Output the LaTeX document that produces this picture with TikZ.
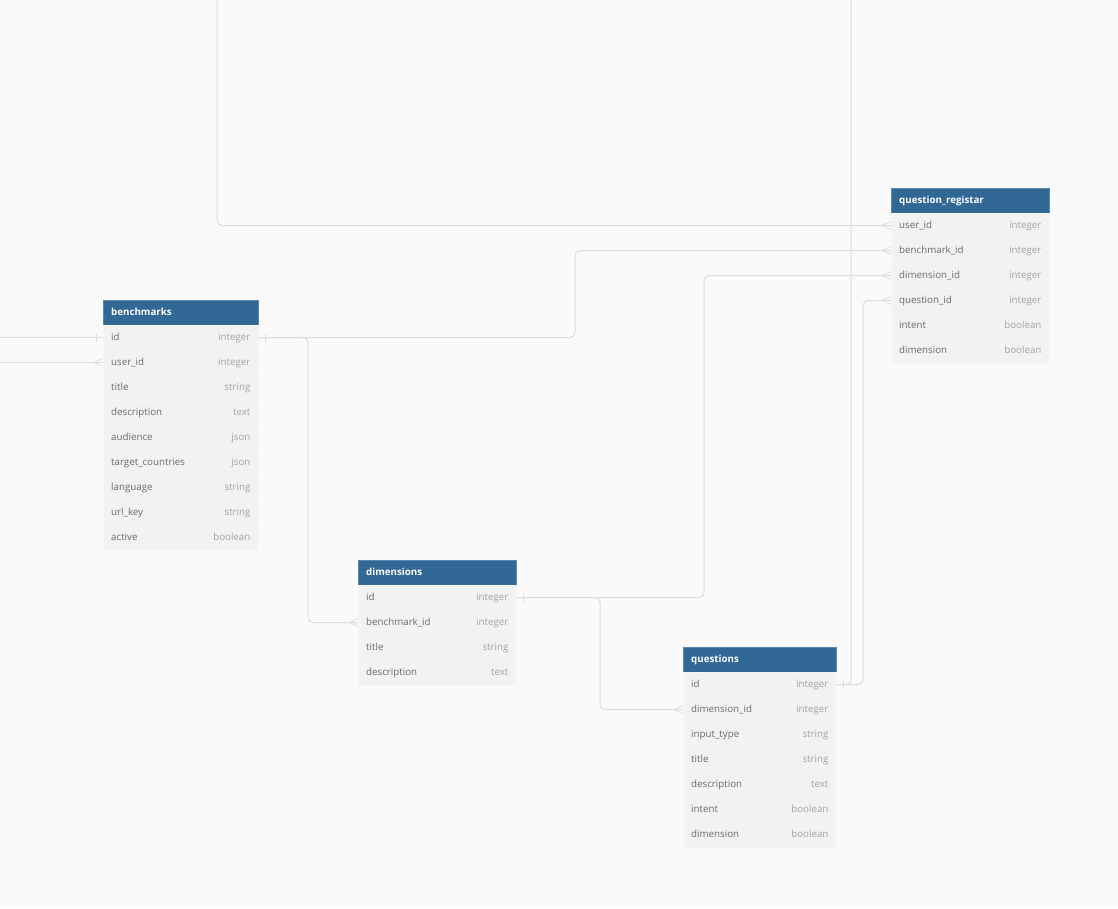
\documentclass[tikz,border=0pt]{standalone}
\usepackage{fontspec}
\setmainfont{Open Sans}
\usetikzlibrary{calc}
\definecolor{bg}{HTML}{FAFAFA}
\definecolor{hdr}{HTML}{316896}
\definecolor{hdrline}{HTML}{5A87AE}
\definecolor{rowbg}{HTML}{F2F2F2}
\definecolor{rowsep}{HTML}{F7F7F7}
\definecolor{fname}{HTML}{6A6A6A}
\definecolor{ftype}{HTML}{A3A3A3}
\definecolor{conn}{HTML}{DCDCDC}
\tikzset{
  hdrbox/.style={fill=hdr, draw=hdrline, line width=0.5pt, minimum height=25pt, inner sep=0pt, anchor=west},
  hdrtext/.style={text=white, font=\fontsize{9.75}{11}\selectfont\bfseries, anchor=base west, inner sep=0pt},
  rowbox/.style={fill=rowbg, draw=rowsep, line width=0.6pt, minimum height=25pt, inner sep=0pt, anchor=west},
  nametext/.style={text=fname, font=\fontsize{9.75}{11}\selectfont, anchor=base west, inner sep=0pt},
  typetext/.style={text=ftype, font=\fontsize{9.75}{11}\selectfont, anchor=base east, inner sep=0pt},
  connline/.style={draw=conn, line width=1pt, rounded corners=5pt},
  footline/.style={draw=conn, line width=0.8pt},
}
\newcommand\erhead[5]{%
  \node[hdrbox, minimum width=#4] (#1) at (#2,#3) {};
  \node[hdrtext] (#1-t) at ([xshift=8pt,yshift=-3.3pt]#1.west) {#5};}
\newcommand\erfield[6]{%
  \node[rowbox, minimum width=#4] (#1) at (#2,#3) {};
  \node[nametext] (#1-n) at ([xshift=8pt,yshift=-3.3pt]#1.west) {#5};
  \node[typetext] (#1-t) at ([xshift=-8pt,yshift=-3.3pt]#1.east) {#6};}
\newcommand\crowfoot[1]{%
  \draw[footline] ($(#1)+(-9,0)$) -- ($(#1)+(0,-4)$) ($(#1)+(-9,0)$) -- ($(#1)+(0,4)$);}
\newcommand\onetick[2]{%
  \draw[footline] ($(#1)+(#2,-4)$) -- ($(#1)+(#2,4)$);}
\begin{document}
\begin{tikzpicture}[x=1pt,y=-1pt]
\fill[bg] (0,0) rectangle (1118,908);
\useasboundingbox (0,0) rectangle (1118,908);

% benchmarks
\erhead{bm}{103}{312.5}{155}{benchmarks}
\erfield{bm-id}{103}{337.5}{155}{id}{integer}
\erfield{bm-user}{103}{362.5}{155}{user\_id}{integer}
\erfield{bm-title}{103}{387.5}{155}{title}{string}
\erfield{bm-desc}{103}{412.5}{155}{description}{text}
\erfield{bm-aud}{103}{437.5}{155}{audience}{json}
\erfield{bm-tc}{103}{462.5}{155}{target\_countries}{json}
\erfield{bm-lang}{103}{487.5}{155}{language}{string}
\erfield{bm-url}{103}{512.5}{155}{url\_key}{string}
\erfield{bm-act}{103}{537.5}{155}{active}{boolean}

% question_registar
\erhead{qr}{891}{200.5}{158}{question\_registar}
\erfield{qr-user}{891}{225.5}{158}{user\_id}{integer}
\erfield{qr-bench}{891}{250.5}{158}{benchmark\_id}{integer}
\erfield{qr-dim}{891}{275.5}{158}{dimension\_id}{integer}
\erfield{qr-q}{891}{300.5}{158}{question\_id}{integer}
\erfield{qr-int}{891}{325.5}{158}{intent}{boolean}
\erfield{qr-dimb}{891}{350.5}{158}{dimension}{boolean}

% dimensions
\erhead{dm}{358}{572.5}{158}{dimensions}
\erfield{dm-id}{358}{597.5}{158}{id}{integer}
\erfield{dm-bench}{358}{622.5}{158}{benchmark\_id}{integer}
\erfield{dm-title}{358}{647.5}{158}{title}{string}
\erfield{dm-desc}{358}{672.5}{158}{description}{text}

% questions
\erhead{q}{683}{659.5}{153}{questions}
\erfield{q-id}{683}{684.5}{153}{id}{integer}
\erfield{q-dim}{683}{709.5}{153}{dimension\_id}{integer}
\erfield{q-type}{683}{734.5}{153}{input\_type}{string}
\erfield{q-title}{683}{759.5}{153}{title}{string}
\erfield{q-desc}{683}{784.5}{153}{description}{text}
\erfield{q-int}{683}{809.5}{153}{intent}{boolean}
\erfield{q-dimb}{683}{834.5}{153}{dimension}{boolean}

% free ends
\coordinate (topA) at (217,0);
\coordinate (topB) at (851,0);
\coordinate (leftA) at (0,337.5);
\coordinate (leftB) at (0,362.5);

% connectors
\draw[connline] (topA) -- (217,225.5) -- (qr-user.west);
\draw[connline] (bm-id.east) -- (575,337.5) -- (575,250.5) -- (qr-bench.west);
\draw[connline] (bm-id.east) -- (308,337.5) -- (308,622.5) -- (dm-bench.west);
\draw[connline] (dm-id.east) -- (704,597.5) -- (704,275.5) -- (qr-dim.west);
\draw[connline] (dm-id.east) -- (600,597.5) -- (600,709.5) -- (q-dim.west);
\draw[connline] (q-id.east) -- (863,684.5) -- (863,300.5) -- (qr-q.west);
\draw[connline] (q-id.east) -- (851,684.5) -- (topB);
\draw[connline] (leftA) -- (bm-id.west);
\draw[connline] (leftB) -- (bm-user.west);

% ends
\crowfoot{qr-user.west}
\crowfoot{qr-bench.west}
\crowfoot{qr-dim.west}
\crowfoot{qr-q.west}
\crowfoot{dm-bench.west}
\crowfoot{q-dim.west}
\crowfoot{bm-user.west}
\onetick{bm-id.east}{7}
\onetick{bm-id.west}{-7}
\onetick{dm-id.east}{7}
\onetick{q-id.east}{7}
\end{tikzpicture}
\end{document}
